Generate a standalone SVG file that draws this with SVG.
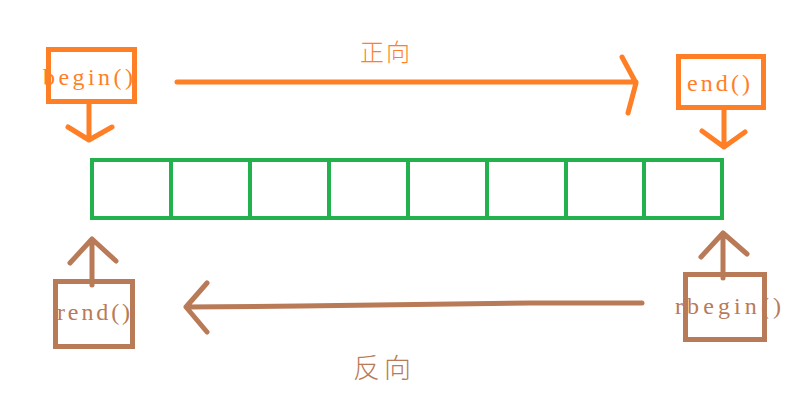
<svg xmlns="http://www.w3.org/2000/svg" width="812" height="420" viewBox="0 0 812 420">
<style>
.or{stroke:#FF7F27;fill:none;stroke-width:5;stroke-linecap:round;stroke-linejoin:round}
.br{stroke:#B97A57;fill:none;stroke-width:5;stroke-linecap:round;stroke-linejoin:round}
.box-or{stroke:#FF7F27;fill:none;stroke-width:5}
.box-br{stroke:#B97A57;fill:none;stroke-width:5}
.cell{stroke:#22B14C;fill:none;stroke-width:4}
.t{font-family:"Liberation Serif",serif;font-size:24px}
.cjk{font-family:"Noto Sans CJK SC",sans-serif;font-weight:300}
.to{fill:#FF7F27}
.tb{fill:#B97A57}
</style>
<rect width="812" height="420" fill="#ffffff"/>
<g id="array">
<rect class="cell" x="92" y="160" width="630" height="58"/>
<path class="cell" d="M171 160V218M250 160V218M329 160V218M408 160V218M487 160V218M566 160V218M644 160V218"/>
</g>
<g id="begin">
<rect class="box-or" x="48.5" y="49.5" width="86" height="52"/>
<text class="t to" x="43" y="85" textLength="90" lengthAdjust="spacing">begin()</text>
</g>
<g id="end">
<rect class="box-or" x="678.5" y="56.5" width="85" height="51"/>
<text class="t to" x="687" y="91" textLength="63" lengthAdjust="spacing">end()</text>
</g>
<g id="rend">
<rect class="box-br" x="55.5" y="281.5" width="77" height="65"/>
<text class="t tb" x="57" y="320" textLength="73" lengthAdjust="spacing">rend()</text>
</g>
<g id="rbegin">
<rect class="box-br" x="685.5" y="274.5" width="79" height="65"/>
<text class="t tb" x="675" y="314" textLength="106" lengthAdjust="spacing">rbegin()</text>
</g>
<g id="labels">
<text class="cjk to" x="360" y="61" font-size="24" letter-spacing="2">正向</text>
<text class="cjk tb" x="353" y="378" font-size="27" letter-spacing="4">反向</text>
</g>
<g id="connectors">
<path class="or" d="M89 104V140M68 127L89 140L112 127"/>
<path class="or" d="M177 82H636M622 57L636 83L628 113"/>
<path class="or" d="M724 110V147M702 131L724 147L745 132"/>
<path class="br" d="M92 285V239M70 263L92 239L116 261"/>
<path class="br" d="M723 278V233M701 257L723 233L747 254"/>
<path class="br" d="M642 303L530 303L300 306L186 307M207 283L186 307L207 332"/>
</g>
</svg>
